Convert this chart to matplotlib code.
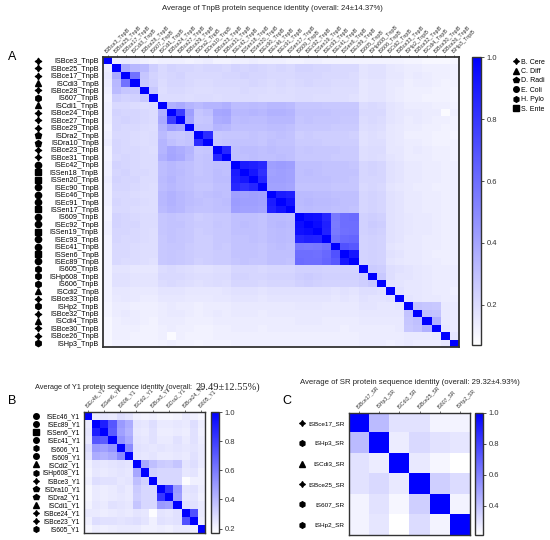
import numpy as np
import matplotlib.pyplot as plt
from matplotlib.colors import LinearSegmentedColormap
from matplotlib.path import Path
from matplotlib.lines import Line2D
import matplotlib.transforms as mtransforms

plt.rcParams['font.family'] = ['Liberation Sans', 'DejaVu Sans']

# ---- panel A : TnpB ----
tnpb_names = ['ISBce3', 'ISBce25', 'ISBce17', 'ISCdi3', 'ISBce28', 'IS607', 'ISCdi1',
              'ISBce24', 'ISBce27', 'ISBce29', 'ISDra2', 'ISDra10', 'ISBce23', 'ISBce31',
              'ISEc42', 'ISSen18', 'ISSen20', 'ISEc90', 'ISEc46', 'ISEc91', 'ISSen17',
              'IS609', 'ISEc92', 'ISSen19', 'ISEc93', 'ISEc41', 'ISSen6', 'ISEc89',
              'IS605', 'ISHp608', 'IS606', 'ISCdi2', 'ISBce33', 'ISHp2', 'ISBce32',
              'ISCdi4', 'ISBce30', 'ISBce26', 'ISHp3']
tnpb_species = ['B', 'B', 'B', 'C', 'B', 'H', 'C', 'B', 'B', 'B', 'D', 'D', 'B', 'B',
                'E', 'S', 'S', 'E', 'E', 'E', 'S', 'E', 'E', 'S', 'E', 'E', 'S', 'E',
                'H', 'H', 'H', 'C', 'B', 'H', 'B', 'C', 'B', 'B', 'H']
# lower triangle, identity in %
tnpb_lower = [
    [],
    [14],
    [15, 38],
    [14, 33, 58],
    [13, 32, 28, 27],
    [12, 25, 23, 24, 27],
    [13, 21, 21, 20, 19, 20],
    [13, 23, 22, 22, 21, 20, 36],
    [13, 22, 23, 22, 21, 20, 38, 78],
    [12, 22, 21, 21, 20, 19, 34, 42, 40],
    [13, 21, 21, 20, 19, 20, 32, 28, 27, 29],
    [14, 22, 21, 20, 19, 20, 34, 30, 28, 29, 84],
    [12, 22, 21, 21, 20, 19, 34, 39, 37, 34, 27, 28],
    [12, 21, 22, 21, 20, 20, 36, 40, 38, 33, 28, 29, 86],
    [13, 23, 22, 21, 20, 20, 31, 33, 31, 30, 28, 29, 30, 30],
    [13, 22, 23, 21, 21, 20, 31, 33, 32, 30, 28, 29, 31, 30, 90],
    [14, 23, 22, 22, 20, 20, 32, 34, 31, 30, 29, 29, 31, 31, 88, 92],
    [13, 22, 22, 21, 20, 19, 31, 33, 31, 30, 28, 28, 30, 30, 85, 82, 86],
    [13, 21, 21, 20, 19, 19, 33, 35, 33, 31, 29, 30, 31, 30, 42, 41, 42, 41],
    [13, 22, 21, 21, 20, 19, 33, 35, 33, 31, 30, 29, 30, 31, 43, 42, 42, 41, 90],
    [12, 21, 21, 20, 19, 19, 32, 34, 33, 30, 29, 29, 30, 30, 42, 41, 41, 40, 88, 93],
    [12, 23, 22, 21, 20, 20, 28, 29, 28, 27, 25, 26, 27, 27, 30, 30, 30, 29, 32, 32, 31],
    [13, 23, 22, 22, 20, 20, 28, 29, 29, 27, 26, 26, 28, 27, 30, 31, 30, 29, 32, 33, 32, 95],
    [13, 22, 22, 21, 20, 19, 28, 29, 28, 27, 25, 26, 27, 27, 30, 30, 30, 29, 31, 32, 31, 94, 96],
    [12, 22, 21, 21, 20, 19, 27, 29, 28, 27, 25, 25, 27, 27, 29, 29, 30, 29, 31, 32, 31, 86, 88, 87],
    [12, 21, 21, 20, 19, 19, 27, 28, 28, 26, 25, 25, 27, 26, 29, 29, 29, 28, 30, 31, 30, 56, 55, 56, 58],
    [12, 21, 21, 20, 19, 19, 27, 28, 27, 26, 25, 25, 26, 26, 29, 29, 29, 28, 30, 30, 30, 60, 60, 59, 62, 70],
    [12, 21, 20, 20, 19, 18, 27, 28, 27, 26, 24, 25, 26, 26, 28, 29, 28, 28, 30, 30, 29, 61, 60, 60, 63, 68, 92],
    [12, 17, 17, 16, 16, 16, 20, 21, 20, 19, 18, 18, 19, 19, 22, 22, 22, 21, 22, 22, 22, 24, 24, 24, 23, 23, 23, 23],
    [12, 18, 18, 17, 17, 17, 21, 21, 21, 20, 19, 19, 20, 20, 23, 23, 22, 22, 23, 23, 23, 25, 26, 25, 24, 24, 24, 24, 26],
    [12, 18, 18, 17, 17, 17, 20, 21, 20, 19, 18, 19, 20, 19, 22, 22, 22, 21, 22, 22, 22, 24, 25, 24, 23, 23, 23, 23, 25, 27],
    [12, 16, 16, 15, 15, 15, 17, 17, 17, 16, 16, 16, 16, 17, 18, 18, 18, 17, 18, 18, 18, 18, 18, 18, 18, 17, 18, 17, 19, 19, 18],
    [12, 15, 16, 15, 14, 14, 16, 16, 16, 15, 15, 15, 16, 16, 17, 17, 17, 16, 17, 17, 17, 17, 17, 17, 17, 16, 17, 16, 18, 17, 17, 18],
    [11, 14, 14, 13, 13, 13, 14, 15, 14, 14, 13, 14, 14, 14, 15, 15, 15, 15, 15, 15, 15, 16, 16, 16, 15, 15, 15, 15, 17, 17, 16, 16, 17],
    [11, 14, 15, 14, 13, 13, 14, 15, 15, 14, 13, 14, 15, 14, 15, 15, 15, 14, 15, 15, 15, 15, 15, 15, 15, 15, 15, 15, 16, 16, 16, 16, 16, 29],
    [10, 13, 14, 14, 13, 12, 14, 14, 14, 13, 13, 13, 14, 14, 14, 14, 14, 14, 14, 14, 14, 15, 15, 15, 14, 14, 14, 14, 15, 15, 15, 15, 15, 28, 30],
    [10, 13, 13, 13, 12, 12, 13, 14, 13, 13, 12, 12, 13, 13, 14, 14, 14, 13, 14, 14, 14, 14, 14, 14, 14, 14, 13, 14, 14, 14, 14, 14, 15, 27, 29, 36],
    [10, 13, 13, 12, 12, 12, 13, 9, 13, 12, 12, 12, 13, 13, 13, 13, 13, 13, 13, 13, 13, 13, 13, 13, 13, 13, 13, 13, 14, 14, 14, 14, 14, 15, 15, 15, 16],
    [10, 12, 12, 12, 11, 11, 12, 13, 12, 12, 11, 12, 12, 12, 13, 13, 13, 13, 13, 13, 13, 13, 13, 13, 13, 13, 13, 13, 14, 14, 14, 13, 14, 15, 14, 14, 14, 16],
]

# ---- panel B : Y1 ----
y1_names = ['ISEc46', 'ISEc89', 'ISSen6', 'ISEc41', 'IS606', 'IS609', 'ISCdi2', 'ISHp608',
            'ISBce3', 'ISDra10', 'ISDra2', 'ISCdi1', 'ISBce24', 'ISBce23', 'IS605']
y1_species = ['E', 'E', 'S', 'E', 'H', 'E', 'C', 'H', 'B', 'D', 'D', 'C', 'B', 'B', 'H']
y1_lower = [
    [],
    [24],
    [25, 90],
    [24, 72, 70],
    [28, 50, 48, 52],
    [26, 44, 42, 45, 55],
    [22, 26, 25, 26, 27, 26],
    [21, 25, 24, 25, 26, 25, 46],
    [22, 28, 27, 27, 25, 26, 38, 32],
    [20, 24, 23, 24, 26, 24, 34, 30, 30],
    [20, 24, 23, 24, 25, 24, 33, 30, 30, 82],
    [21, 25, 24, 27, 26, 25, 36, 30, 30, 50, 48],
    [24, 24, 23, 24, 25, 24, 26, 25, 18, 26, 25, 27],
    [22, 28, 27, 27, 26, 27, 28, 26, 22, 27, 26, 27, 74],
    [20, 23, 22, 23, 24, 24, 24, 22, 22, 23, 22, 24, 24, 23],
]

# ---- panel C : SR ----
sr_names = ['ISBce17', 'ISHp3', 'ISCdi3', 'ISBce25', 'IS607', 'ISHp2']
sr_species = ['B', 'H', 'C', 'B', 'H', 'H']
sr_lower = [
    [],
    [42],
    [30, 27],
    [30, 33, 28],
    [25, 30, 24, 36],
    [25, 29, 21, 32, 25],
]

legend_names = ['B. Cere', 'C. Diff', 'D. Radi', 'E. Coli', 'H. Pylo', 'S. Ente']

# custom "diamond" like the GraphPad one
b_marker = Path([(0, 1), (0.38, 0.38), (1, 0), (0.38, -0.38), (0, -1),
                 (-0.38, -0.38), (-1, 0), (-0.38, 0.38), (0, 1)], closed=True)
marker_of = {'B': b_marker, 'C': '^', 'D': 'p', 'E': 'o', 'H': 'h', 'S': 's'}

cmap = LinearSegmentedColormap.from_list('wb', ['#ffffff', '#0000ff'])


def full_matrix(lower):
    n = len(lower)
    m = np.eye(n)
    for i, row in enumerate(lower):
        for j, v in enumerate(row):
            m[i, j] = m[j, i] = v / 100.0
    return m


fig = plt.figure(figsize=(5.5, 5.4), dpi=100)


def panel(rect, cbrect, lower, names, species, suffix, step, vmin, cticks,
          mx, lab_fs, col_fs, msize, spine_lw):
    mat = full_matrix(lower)
    n = len(names)
    labels = [s + suffix for s in names]
    ax = fig.add_axes(rect)
    im = ax.imshow(mat, cmap=cmap, vmin=vmin, vmax=1.0, aspect='auto',
                   interpolation='nearest')
    ax.set_yticks(range(n))
    ax.set_yticklabels(labels, fontsize=lab_fs)
    ax.xaxis.tick_top()
    ax.set_xticks(range(0, n, step))
    ax.set_xticklabels(labels[::step], fontsize=col_fs, rotation=45,
                       ha='left', va='bottom', rotation_mode='anchor')
    ax.tick_params(axis='y', length=0, pad=3)
    ax.tick_params(axis='x', length=1.5, width=0.5, pad=1, colors='#333333')
    for sp in ax.spines.values():
        sp.set_linewidth(spine_lw)
        sp.set_color('#333333')
    tr = mtransforms.blended_transform_factory(ax.transAxes, ax.transData)
    for i, sp in enumerate(species):
        ax.plot(mx, i, marker=marker_of[sp], color='black', markersize=msize,
                linestyle='none', transform=tr, clip_on=False)
    cax = fig.add_axes(cbrect)
    cb = fig.colorbar(im, cax=cax, ticks=cticks)
    cb.ax.set_yticklabels(['%.1f' % t for t in cticks])
    cb.ax.tick_params(labelsize=5.5, length=2, width=0.6, pad=2, colors='#333333')
    cb.outline.set_linewidth(1.0)
    cb.outline.set_edgecolor('#333333')
    return ax


axA = panel([0.1873, 0.3574, 0.647, 0.537], [0.858, 0.361, 0.0164, 0.533],
            tnpb_lower, tnpb_names, tnpb_species, '_TnpB', 1, 0.07,
            [0.2, 0.4, 0.6, 0.8, 1.0], -0.183, 5.2, 3.9, 4.5, 1.3)
axB = panel([0.1527, 0.013, 0.22, 0.224], [0.3836, 0.013, 0.0145, 0.224],
            y1_lower, y1_names, y1_species, '_Y1', 2, 0.17,
            [0.2, 0.4, 0.6, 0.8, 1.0], -0.397, 4.8, 3.7, 4.0, 1.0)
axC = panel([0.6345, 0.0093, 0.22, 0.226], [0.8636, 0.0093, 0.0145, 0.226],
            sr_lower, sr_names, sr_species, '_SR', 1, 0.21,
            [0.4, 0.6, 0.8, 1.0], -0.388, 4.6, 3.7, 4.0, 1.0)

# legend
handles = [Line2D([], [], marker=marker_of[k], color='black', linestyle='none',
                  markersize=4) for k in ['B', 'C', 'D', 'E', 'H', 'S']]
fig.legend(handles, legend_names, loc='upper left', bbox_to_anchor=(0.927, 0.898),
           frameon=False, fontsize=5, handlelength=0.8, handletextpad=0.3,
           labelspacing=0.35, borderpad=0)

# titles
fig.text(0.495, 0.984, 'Average of TnpB protein sequence identity (overall: 24\u00b114.37%)',
         ha='center', va='center', fontsize=5.6, color='#222222')
fig.text(0.353, 0.283, 'Average of Y1 protein sequence identity (overall: ',
         ha='right', va='center', fontsize=5.35, color='#222222')
fig.text(0.355, 0.283, '29.49\u00b112.55%)', ha='left', va='center', fontsize=7.5,
         family='Liberation Serif', color='#222222')
fig.text(0.745, 0.291, 'Average of SR protein sequence identity (overall: 29.32\u00b14.93%)',
         ha='center', va='center', fontsize=5.6, color='#222222')

# panel letters
fig.text(0.022, 0.895, 'A', fontsize=9, ha='center', va='center')
fig.text(0.022, 0.258, 'B', fontsize=9, ha='center', va='center')
fig.text(0.522, 0.258, 'C', fontsize=9, ha='center', va='center')

fig.savefig('out.png', dpi=100)
